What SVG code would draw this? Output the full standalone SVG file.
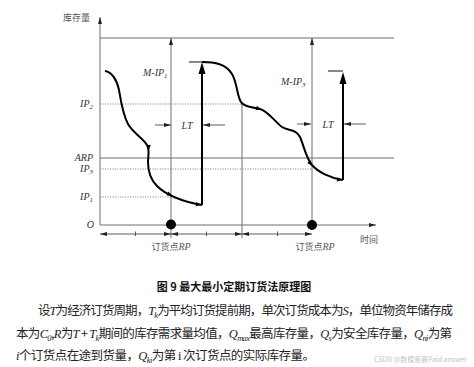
<svg xmlns="http://www.w3.org/2000/svg" width="474" height="367" viewBox="0 0 474 367">
<style>
.thin{stroke:#6e6e6e;stroke-width:1;fill:none}
.dim{stroke:#333;stroke-width:0.8;fill:none}
.dot{stroke:#8a8a8a;stroke-width:1;stroke-dasharray:1.2 1.3;fill:none}
.thick{stroke:#000;stroke-width:2;fill:none}
.lbl{font-family:"Liberation Serif",serif;font-style:italic;font-size:10px;fill:#333}
.sb{font-size:7px}
.cjk{font-family:"Noto Sans CJK SC",sans-serif;font-size:9px;fill:#555}
.cap{font-family:"Noto Sans CJK SC",sans-serif;font-weight:bold;font-size:11px;fill:#111}
.para{font-family:"Noto Sans CJK SC",sans-serif;font-size:12.5px;fill:#222}
.m{font-family:"Liberation Serif",serif;font-style:italic}
.s{font-family:"Liberation Serif",serif;font-style:italic;font-size:8.5px}
.wm{font-family:"Noto Sans CJK SC",sans-serif;font-size:7px;fill:#c4c4c4}
</style>
<defs>
<marker id="a" viewBox="0 0 7 4" refX="7" refY="2" markerWidth="7" markerHeight="4" markerUnits="userSpaceOnUse" orient="auto-start-reverse"><path d="M0,0 L7,2 L0,4 z" fill="#222"/></marker>
<path id="ch" d="M0,0 L-5,-2.2 L-5,2.2 z" fill="#000"/>
</defs>

<g id="axes">
<line class="thin" x1="100" y1="225" x2="100" y2="17" marker-end="url(#a)"/>
<line class="thin" x1="100" y1="225" x2="376" y2="225" marker-end="url(#a)"/>
<text class="cjk" x="90" y="21" text-anchor="end">库存量</text>
<text class="cjk" x="369" y="243" text-anchor="middle">时间</text>
<text class="lbl" x="94" y="228" text-anchor="end">O</text>
</g>

<g id="levels">
<line class="thin" x1="100" y1="38" x2="394" y2="38"/>
<line class="thin" x1="100" y1="158" x2="394" y2="158"/>
<line class="dot" x1="100" y1="104" x2="242" y2="104"/>
<line class="dot" x1="100" y1="169" x2="312" y2="169"/>
<line class="dot" x1="100" y1="197" x2="171" y2="197"/>
<text class="lbl" x="93" y="107" text-anchor="end">IP<tspan class="sb" dy="2">2</tspan></text>
<text class="lbl" x="93" y="161" text-anchor="end">ARP</text>
<text class="lbl" x="93" y="172" text-anchor="end">IP<tspan class="sb" dy="2">3</tspan></text>
<text class="lbl" x="93" y="200" text-anchor="end">IP<tspan class="sb" dy="2">1</tspan></text>
</g>

<g id="connectors">
<line class="thin" x1="171" y1="238" x2="171" y2="38" marker-end="url(#a)"/>
<line class="thin" x1="242" y1="104" x2="242" y2="238"/>
<line class="thin" x1="312" y1="225" x2="312" y2="38" marker-end="url(#a)"/>
<line class="dim" x1="100" y1="234" x2="171" y2="234" marker-start="url(#a)" marker-end="url(#a)"/>
<line class="dim" x1="171" y1="234" x2="242" y2="234" marker-start="url(#a)" marker-end="url(#a)"/>
<line class="dim" x1="242" y1="234" x2="312" y2="234" marker-start="url(#a)" marker-end="url(#a)"/>
<line class="dim" x1="135.5" y1="231.5" x2="135.5" y2="236"/>
<line class="dim" x1="206.5" y1="231.5" x2="206.5" y2="236"/>
<line class="dim" x1="277.5" y1="231.5" x2="277.5" y2="236"/>
<line class="dim" x1="155" y1="125" x2="171" y2="125" marker-end="url(#a)"/>
<line class="dim" x1="225" y1="125" x2="203" y2="125" marker-end="url(#a)"/>
<line class="dim" x1="297" y1="124" x2="311" y2="124" marker-end="url(#a)"/>
<line class="dim" x1="366" y1="124" x2="344" y2="124" marker-end="url(#a)"/>
</g>

<g id="rp1">
<circle cx="171" cy="224.5" r="5" fill="#000"/>
<text class="cjk" x="171" y="250" text-anchor="middle">订货点<tspan class="m" font-size="10">RP</tspan></text>
<text class="lbl" x="143" y="76">M-IP<tspan class="sb" dy="2">1</tspan></text>
<text class="lbl" x="187" y="129" text-anchor="middle">LT</text>
</g>
<g id="rp2">
<circle cx="312" cy="225" r="5" fill="#000"/>
<text class="cjk" x="315" y="250" text-anchor="middle">订货点<tspan class="m" font-size="10">RP</tspan></text>
<text class="lbl" x="281" y="85">M-IP<tspan class="sb" dy="2">3</tspan></text>
<text class="lbl" x="328" y="128" text-anchor="middle">LT</text>
</g>

<g id="inventory">
<path class="thick" d="M105,71 C112,72 117,80 119,90 C121,102 123,115 128,124 C133,133 143,138 147,145 C150,150 148,156 148,162 C148,172 151,180 157,186 C165,194 180,201 202,205"/>
<line class="thick" x1="202" y1="205" x2="202" y2="72"/>
<polygon points="202,62 198.5,74 205.5,74" fill="#000"/>
<line x1="189" y1="62" x2="202" y2="62" stroke="#111" stroke-width="1"/>
<path class="thick" d="M202,62 C215,62 226,64 232,74 C237,82 237,96 241,102 C244,107 252,107 260,109 C268,111 274,121 282,127 C288,131 296,129 300,137 C304,146 306,158 312,165 C318,172 330,178 343,180"/>
<line class="thick" x1="343" y1="180" x2="343" y2="82"/>
<polygon points="343,72 339.5,84 346.5,84" fill="#000"/>
<line x1="328" y1="71" x2="343" y2="71" stroke="#111" stroke-width="1"/>
<use href="#ch" transform="translate(149,150) rotate(85)"/>
<use href="#ch" transform="translate(172,195.5) rotate(25)"/>
<use href="#ch" transform="translate(201,205) rotate(10)"/>
<use href="#ch" transform="translate(261,109.5) rotate(18)"/>
<use href="#ch" transform="translate(312,165.5) rotate(50)"/>
<use href="#ch" transform="translate(342,180) rotate(8)"/>
</g>

<g id="caption">
<text class="cap" x="234" y="291" text-anchor="middle">图 9 最大最小定期订货法原理图</text>
</g>

<g id="paragraph">
<text class="para" x="38" y="315" textLength="415" lengthAdjust="spacing">设<tspan class="m">T</tspan>为经济订货周期，<tspan class="m">T</tspan><tspan class="s" dy="3">k</tspan><tspan dy="-3">为平均订货提前期，单次订货成本为</tspan><tspan class="m">S</tspan>，单位物资年储存成</text>
<text class="para" x="16" y="338" textLength="436" lengthAdjust="spacing">本为<tspan class="m">C</tspan><tspan class="s" dy="3">0</tspan><tspan dy="-3">,</tspan><tspan class="m">R</tspan>为<tspan class="m">T</tspan> + <tspan class="m">T</tspan><tspan class="s" dy="3">k</tspan><tspan dy="-3">期间的库存需求量均值，</tspan><tspan class="m">Q</tspan><tspan class="s" dy="3">max</tspan><tspan dy="-3">最高库存量，</tspan><tspan class="m">Q</tspan><tspan class="s" dy="3">s</tspan><tspan dy="-3">为安全库存量，</tspan><tspan class="m">Q</tspan><tspan class="s" dy="3">ni</tspan><tspan dy="-3">为第</tspan></text>
<text class="para" x="16" y="360" textLength="299" lengthAdjust="spacing"><tspan class="m">i</tspan>个订货点在途到货量，<tspan class="m">Q</tspan><tspan class="s" dy="3">ki</tspan><tspan dy="-3">为第 </tspan><tspan font-family="Liberation Serif,serif">i</tspan> 次订货点的实际库存量。</text>
</g>

<text class="wm" x="374" y="362" textLength="93" lengthAdjust="spacingAndGlyphs">CSDN @数模竞赛Paid answer</text>
</svg>
